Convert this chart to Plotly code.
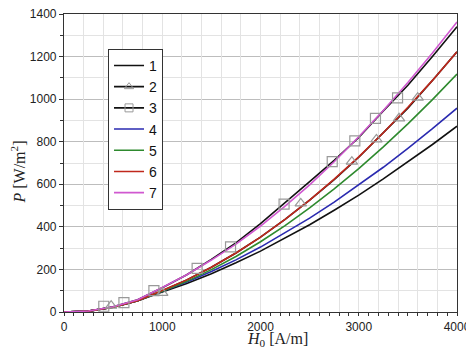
import plotly.graph_objects as go

# ---- data ----
h_grid = [0, 250, 500, 750, 1000, 1250, 1500, 1750, 2000, 2250, 2500, 2750, 3000, 3250, 3500, 3750, 4000]
p1 = [0, 4, 22, 53, 94, 134, 180, 231, 286, 346, 410, 478, 549, 625, 704, 787, 873]
p2 = [0, 4, 22, 53, 100, 151, 210, 277, 352, 435, 526, 622, 727, 842, 958, 1088, 1222]
p3 = [0, 5, 25, 58, 114, 175, 247, 325, 415, 512, 612, 712, 820, 945, 1065, 1200, 1340]
p4 = [0, 4, 22, 53, 97, 141, 190, 245, 305, 371, 441, 516, 596, 680, 769, 861, 958]
p5 = [0, 4, 22, 53, 97, 144, 199, 261, 330, 406, 489, 578, 674, 776, 884, 998, 1118]
p6 = [0, 4, 22, 53, 101, 151, 210, 277, 352, 435, 526, 624, 729, 842, 962, 1088, 1222]
p7 = [0, 5, 25, 58, 115, 175, 244, 319, 404, 497, 597, 706, 823, 947, 1078, 1217, 1363]

tri_h = [480, 1000, 2410, 2930, 3180, 3410, 3600]
tri_p = [30, 90, 510, 706, 811, 910, 1007]
sq_h = [405, 610, 915, 1355, 1695, 2240, 2730, 2960, 3170, 3395]
sq_p = [27, 44, 100, 205, 306, 507, 706, 804, 910, 1006]

names = ["1", "2", "3", "4", "5", "6", "7"]
series = [p1, p2, p3, p4, p5, p6, p7]
colors = ["#111111", "#111111", "#111111", "#2a2ab0", "#2e8a2e", "#c0281c", "#d058d0"]

x_title = "<i>H</i><sub>0</sub> [A/m]"
y_title = "<i>P</i> [W/m<sup>2</sup>]"

fig = go.Figure()

for name, ys, c in zip(names, series, colors):
    fig.add_trace(go.Scatter(x=h_grid, y=ys, mode="lines", name=name,
                             line=dict(color=c, width=1.6), showlegend=False))

mk_col = "#999999"
fig.add_trace(go.Scatter(x=tri_h, y=tri_p, mode="markers", showlegend=False,
                         marker=dict(symbol="triangle-up-open", size=10, color=mk_col,
                                     line=dict(width=1.2, color=mk_col))))
fig.add_trace(go.Scatter(x=sq_h, y=sq_p, mode="markers", showlegend=False,
                         marker=dict(symbol="square-open", size=10, color=mk_col,
                                     line=dict(width=1.2, color=mk_col))))

# legend entries
for name, c in zip(names, colors):
    if name == "2":
        mk = dict(symbol="triangle-up-open", size=8, color=mk_col)
        mode = "lines+markers"
    elif name == "3":
        mk = dict(symbol="square-open", size=8, color=mk_col)
        mode = "lines+markers"
    else:
        mk = None
        mode = "lines"
    fig.add_trace(go.Scatter(x=[None], y=[None], mode=mode, name=name,
                             line=dict(color=c, width=1.6), marker=mk))

# invisible trace for the secondary x axis (grid every 200)
fig.add_trace(go.Scatter(x=[None], y=[None], xaxis="x2", showlegend=False, hoverinfo="skip"))

tickfont = dict(family="Liberation Sans, Arial", size=12, color="#222")
titlefont = dict(family="Liberation Serif, Times New Roman", size=16, color="#222")

# page has an 8px body margin, so the figure is offset by 8px
fig.update_layout(
    width=466, height=354,
    margin=dict(l=55.5, r=17.3, t=5.5, b=50.3),
    paper_bgcolor="white", plot_bgcolor="white",
    showlegend=True,
    legend=dict(x=0.112, y=0.883, xanchor="left", yanchor="top",
                bgcolor="white", bordercolor="#333", borderwidth=1,
                font=dict(family="Liberation Sans, Arial", size=14, color="#111"),
                tracegroupgap=0, itemwidth=30),
    xaxis=dict(range=[0, 4000], dtick=1000, tick0=0, automargin=False,
               ticklabeloverflow="allow",
               showgrid=True, gridcolor="#bdbdbd", gridwidth=1,
               showline=True, linecolor="#333", linewidth=1.2, mirror=True,
               ticks="outside", ticklen=3, tickcolor="#333",
               minor=dict(dtick=100, ticks="outside", ticklen=3, tickcolor="#333", showgrid=False),
               tickfont=tickfont, zeroline=False),
    xaxis2=dict(range=[0, 4000], overlaying="x", anchor="y", dtick=200, tick0=0,
                automargin=False, showgrid=True, gridcolor="#e3e3e3", gridwidth=1,
                showticklabels=False, ticks="", showline=False, zeroline=False),
    yaxis=dict(range=[0, 1400], dtick=200, tick0=0, automargin=False,
               ticklabeloverflow="allow",
               showgrid=True, gridcolor="#bdbdbd", gridwidth=1,
               showline=True, linecolor="#333", linewidth=1.2, mirror=True,
               ticks="outside", ticklen=4, tickcolor="#333",
               minor=dict(dtick=100, ticks="outside", ticklen=3, tickcolor="#333",
                          showgrid=True, gridcolor="#e3e3e3"),
               tickfont=tickfont, zeroline=False),
    annotations=[
        dict(text=x_title, xref="paper", yref="paper", x=0.543, y=0,
             xanchor="center", yanchor="middle", yshift=-27.5, showarrow=False, font=titlefont),
        dict(text=y_title, xref="paper", yref="paper", x=-0.117, y=0.468,
             xanchor="center", yanchor="middle", textangle=-90, showarrow=False, font=titlefont),
    ],
)

fig.write_html("out.html")
